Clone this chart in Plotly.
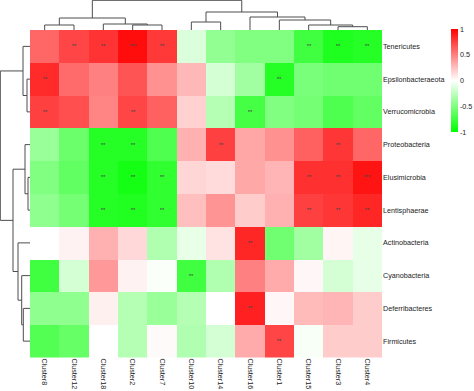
import plotly.graph_objects as go

clusters = ["Cluster8", "Cluster12", "Cluster18", "Cluster2", "Cluster7", "Cluster10",
            "Cluster14", "Cluster16", "Cluster1", "Cluster15", "Cluster3", "Cluster4"]
phyla = ["Tenericutes", "Epsilonbacteraeota", "Verrucomicrobia", "Proteobacteria",
         "Elusimicrobia", "Lentisphaerae", "Actinobacteria", "Cyanobacteria",
         "Deferribacteres", "Firmicutes"]

values = [
    [0.60, 0.73, 0.80, 0.95, 0.78, -0.14, -0.43, -0.50, -0.50, -0.75, -0.88, -0.85],
    [0.83, 0.58, 0.50, 0.67, 0.43, 0.28, -0.17, -0.37, -0.85, -0.52, -0.56, -0.56],
    [0.75, 0.69, 0.48, 0.73, 0.62, 0.18, -0.29, -0.73, -0.50, -0.54, -0.69, -0.62],
    [-0.40, -0.58, -0.85, -0.85, -0.69, 0.31, 0.75, 0.35, 0.43, 0.62, 0.79, 0.60],
    [-0.50, -0.62, -0.85, -0.92, -0.81, 0.16, 0.14, 0.34, 0.29, 0.81, 0.81, 0.92],
    [-0.44, -0.54, -0.85, -0.87, -0.81, 0.25, 0.42, 0.20, 0.31, 0.75, 0.79, 0.85],
    [0.00, 0.05, 0.31, 0.15, -0.31, -0.09, 0.11, 0.85, -0.56, -0.37, 0.04, -0.10],
    [-0.75, -0.17, 0.40, 0.05, -0.02, -0.75, -0.31, 0.50, 0.33, 0.03, -0.17, -0.10],
    [-0.44, -0.44, 0.06, -0.29, -0.40, -0.29, 0.00, 0.87, 0.03, 0.27, 0.29, 0.20],
    [-0.67, -0.60, 0.00, -0.29, 0.02, -0.31, -0.17, 0.33, 0.73, -0.03, 0.20, 0.20],
]

stars = [
    ["", "**", "**", "***", "**", "", "", "", "", "**", "**", "**"],
    ["**", "", "", "", "", "", "", "", "**", "", "", ""],
    ["**", "", "", "**", "", "", "", "**", "", "", "", ""],
    ["", "", "**", "**", "", "", "**", "", "", "", "**", ""],
    ["", "", "**", "**", "**", "", "", "", "", "**", "**", "***"],
    ["", "", "**", "**", "**", "", "", "", "", "**", "**", "**"],
    ["", "", "", "", "", "", "", "**", "", "", "", ""],
    ["", "", "", "", "", "**", "", "", "", "", "", ""],
    ["", "", "", "", "", "", "", "**", "", "", "", ""],
    ["", "", "", "", "", "", "", "", "**", "", "", ""],
]

# dendrograms: (left, right, merge height)
col_tree = ((("Cluster8", "Cluster12", 5),
             ("Cluster18", ("Cluster2", "Cluster7", 5), 6), 12),
            (("Cluster10", "Cluster14", 8),
             ("Cluster16", ("Cluster1", ("Cluster15", ("Cluster3", "Cluster4", 3.3), 5), 10), 13), 18),
            29.7)
row_tree = (("Tenericutes", ("Epsilonbacteraeota", "Verrucomicrobia", 3), 7),
            (("Proteobacteria", ("Elusimicrobia", "Lentisphaerae", 2), 5),
             ("Actinobacteria", ("Cyanobacteria", ("Deferribacteres", "Firmicutes", 6.7), 8.3), 12), 17),
            29.7)


def tree_segments(node, pos):
    if isinstance(node, str):
        return pos[node], 0, []
    left, right, h = node
    xl, hl, sl = tree_segments(left, pos)
    xr, hr, sr = tree_segments(right, pos)
    return (xl + xr) / 2, h, sl + sr + [[(xl, hl), (xl, h), (xr, h), (xr, hr)]]


W, H = 474, 391
hm_x0, hm_x1 = 30 / W, 382 / W
hm_y0, hm_y1 = 1 - 357.5 / H, 1 - 30 / H
FONT = "Liberation Sans, Arial, sans-serif"
LINE = "#4d4d4d"
TXT = "#222222"

fig = go.Figure()

fig.add_trace(go.Heatmap(
    z=values, x=list(range(len(clusters))), y=list(range(len(phyla))),
    text=stars, texttemplate="%{text}",
    textfont=dict(size=6, color="#444444", family=FONT),
    zmin=-1, zmax=1,
    colorscale=[[0, "#00FF00"], [0.5, "#FFFFFF"], [1, "#FF0000"]],
    colorbar=dict(
        x=451 / W, xanchor="left", y=hm_y1 + 1 / H, yanchor="top",
        len=103, lenmode="pixels", thickness=7, thicknessmode="pixels",
        outlinewidth=0, xpad=0, ypad=0,
        tickvals=[-1, -0.5, 0, 0.5, 1], ticktext=["-1", "-0.5", "0", "0.5", "1"],
        tickfont=dict(size=7.2, color=TXT, family=FONT), ticks="",
    ),
    hoverinfo="skip",
))

cpos = {c: i for i, c in enumerate(clusters)}
_, _, csegs = tree_segments(col_tree, cpos)
xs, ys = [], []
for seg in csegs:
    for (p, h) in seg:
        xs.append(p)
        ys.append(h)
    xs.append(None)
    ys.append(None)
fig.add_trace(go.Scatter(x=xs, y=ys, mode="lines", line=dict(color=LINE, width=1),
                         xaxis="x2", yaxis="y2", hoverinfo="skip", showlegend=False))

rpos = {r: i for i, r in enumerate(phyla)}
_, _, rsegs = tree_segments(row_tree, rpos)
xs, ys = [], []
for seg in rsegs:
    for (p, h) in seg:
        xs.append(h)
        ys.append(p)
    xs.append(None)
    ys.append(None)
fig.add_trace(go.Scatter(x=xs, y=ys, mode="lines", line=dict(color=LINE, width=1),
                         xaxis="x3", yaxis="y3", hoverinfo="skip", showlegend=False))

fig.update_layout(
    width=W, height=H, margin=dict(l=0, r=0, t=0, b=0, autoexpand=False),
    paper_bgcolor="white", plot_bgcolor="white", showlegend=False,
    font=dict(family=FONT, size=7.2, color=TXT),
    xaxis=dict(domain=[hm_x0, hm_x1], range=[-0.5, len(clusters) - 0.5],
               tickvals=list(range(len(clusters))), ticktext=clusters, tickangle=90,
               showgrid=False, zeroline=False, ticks="", showline=False, automargin=False,
               tickfont=dict(size=7.2, color=TXT, family=FONT), anchor="y"),
    yaxis=dict(domain=[hm_y0, hm_y1], range=[len(phyla) - 0.5, -0.5], side="right",
               tickvals=list(range(len(phyla))), ticktext=phyla, automargin=False,
               showgrid=False, zeroline=False, ticks="", showline=False,
               tickfont=dict(size=7.2, color=TXT, family=FONT), anchor="x"),
    xaxis2=dict(domain=[hm_x0, hm_x1], range=[-0.5, len(clusters) - 0.5], visible=False, anchor="y2"),
    yaxis2=dict(domain=[hm_y1, 1], range=[0, 30], visible=False, anchor="x2"),
    xaxis3=dict(domain=[0, hm_x0], range=[30, 0], visible=False, anchor="y3"),
    yaxis3=dict(domain=[hm_y0, hm_y1], range=[len(phyla) - 0.5, -0.5], visible=False, anchor="x3"),
)

fig.write_html(
    "out.html",
    config={"displayModeBar": False},
    post_script="document.body.style.margin='0';document.body.style.overflow='hidden';",
)
